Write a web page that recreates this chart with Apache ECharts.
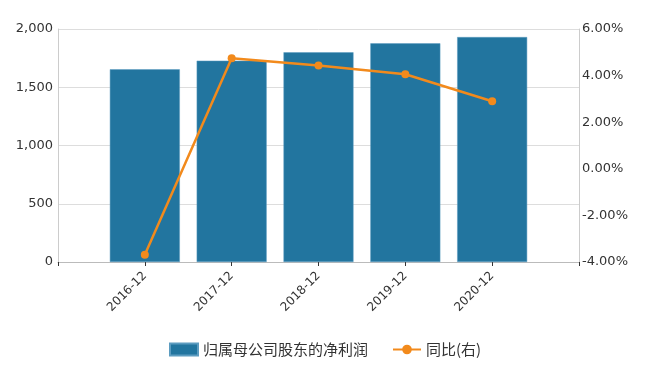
<!DOCTYPE html>
<html>
<head>
<meta charset="utf-8">
<script src="https://cdn.jsdelivr.net/npm/echarts@6/dist/echarts.min.js"></script>
<style>
  html, body { margin: 0; padding: 0; background: #fff; }
  #chart { width: 657px; height: 378px; }
</style>
</head>
<body>
<div id="chart"></div>
<script>
// 数据（首尾留空类目，用来让柱子与两侧坐标轴之间留出一格）
var categories = ['', '2016-12', '2017-12', '2018-12', '2019-12', '2020-12', ''];
var profitValues = [null, 1654, 1728, 1800, 1877, 1931, null];
var yoyValues = [null, -3.69, 4.74, 4.43, 4.06, 2.90, null];
var leftTicks = [0, 2000, 500];
var rightTicks = [-4, 6, 2];

var chart = echarts.init(document.getElementById('chart'), null, { renderer: 'canvas' });

var labelFont = 'DejaVu Sans';

var option = {
  animation: false,
  grid: { left: 58, right: 78, top: 29, bottom: 116 },
  legend: {
    bottom: 16,
    left: 164,
    itemWidth: 28,
    itemHeight: 12,
    itemGap: 24,
    textStyle: { fontSize: 15, color: '#333', fontFamily: 'Noto Sans CJK SC' },
    data: [
      { name: '归属母公司股东的净利润', icon: 'rect' },
      { name: '同比(右)' }
    ]
  },
  xAxis: {
    type: 'category',
    data: categories,
    boundaryGap: false,
    axisLine: { lineStyle: { color: '#bbb', width: 1 } },
    axisTick: { show: true, length: 4, lineStyle: { color: '#333' } },
    axisLabel: {
      rotate: 45,
      fontSize: 12,
      color: '#333',
      fontFamily: labelFont,
      margin: 12
    },
    splitLine: { show: false }
  },
  yAxis: [
    {
      type: 'value',
      min: leftTicks[0],
      max: leftTicks[1],
      interval: leftTicks[2],
      axisLine: { show: true, lineStyle: { color: '#ccc' } },
      axisTick: { show: false },
      axisLabel: {
        fontSize: 13,
        color: '#333',
        fontFamily: labelFont,
        margin: 5,
        formatter: function (v) { return v.toLocaleString('en-US'); }
      },
      splitLine: { lineStyle: { color: '#ddd', width: 1 } }
    },
    {
      type: 'value',
      min: rightTicks[0],
      max: rightTicks[1],
      interval: rightTicks[2],
      position: 'right',
      axisLine: { show: true, lineStyle: { color: '#ccc' } },
      axisTick: { show: false },
      axisLabel: {
        fontSize: 13,
        color: '#333',
        fontFamily: labelFont,
        margin: 3,
        formatter: function (v) { return v.toFixed(2) + '%'; }
      },
      splitLine: { show: false }
    }
  ],
  series: [
    {
      name: '归属母公司股东的净利润',
      type: 'bar',
      data: profitValues,
      barWidth: 70,
      itemStyle: { color: '#22759f', borderColor: '#5c9cc0', borderWidth: 0.5 }
    },
    {
      name: '同比(右)',
      type: 'line',
      yAxisIndex: 1,
      data: yoyValues,
      symbol: 'circle',
      symbolSize: 8,
      lineStyle: { color: '#f28a1c', width: 2.5 },
      itemStyle: { color: '#f28a1c' }
    }
  ]
};

chart.setOption(option);
</script>
</body>
</html>
